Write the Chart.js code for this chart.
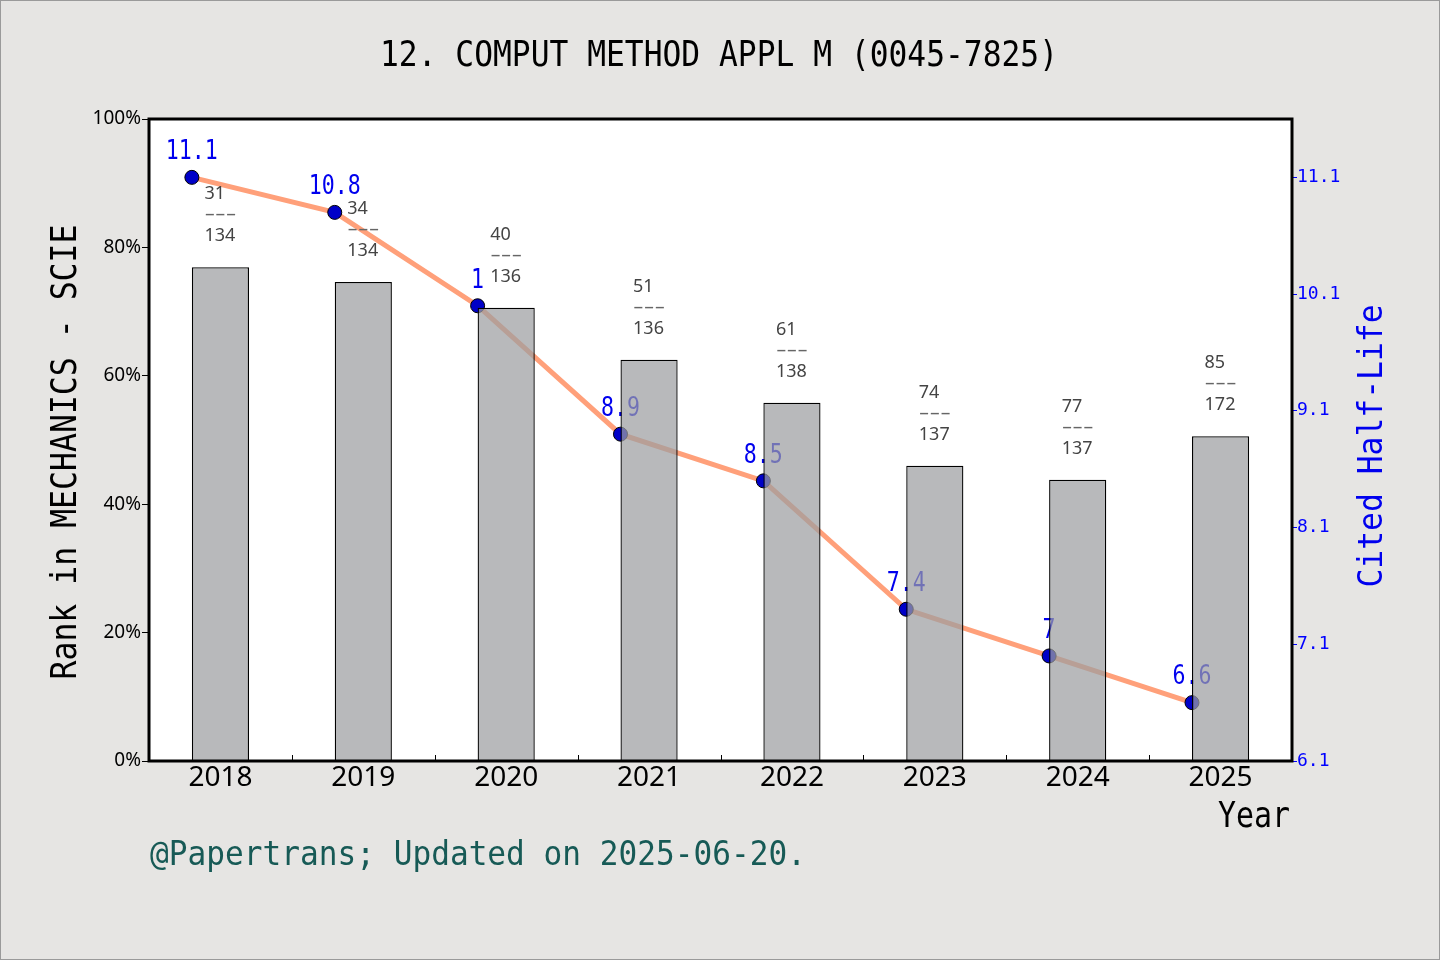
<!DOCTYPE html>
<html>
<head>
<meta charset="utf-8">
<script src="https://cdn.jsdelivr.net/npm/chart.js@4.4.1/dist/chart.umd.min.js"></script>
<style>
  html, body { margin: 0; padding: 0; background: #e6e5e3; }
  canvas { display: block; }
</style>
</head>
<body>
<canvas id="chart" width="1440" height="960"></canvas>
<script>
const years = ['2018', '2019', '2020', '2021', '2022', '2023', '2024', '2025'];
const rankPct = [76.9, 74.6, 70.6, 62.5, 55.8, 46.0, 43.8, 50.6];
const ranks = [31, 34, 40, 51, 61, 74, 77, 85];
const totals = [134, 134, 136, 136, 138, 137, 137, 172];
const halfLife = [11.1, 10.8, 10.0, 8.9, 8.5, 7.4, 7.0, 6.6];
const halfLifeLabels = ['11.1', '10.8', '1', '8.9', '8.5', '7.4', '7', '6.6'];
const rightTicks = [6.1, 7.1, 8.1, 9.1, 10.1, 11.1];

const MONO = '"DejaVu Sans Mono", "Liberation Mono", monospace';
const SANS = '"Noto Sans", "Open Sans", sans-serif';

// draws text squeezed to a given width, like the narrow CJK half-width font
function fitText(ctx, text, x, y, o) {
    ctx.save();
    ctx.font = o.font;
    const w = ctx.measureText(text).width;
    const sx = o.width ? o.width / w : 1;
    ctx.translate(x, y);
    if (o.rotate) ctx.rotate(o.rotate);
    ctx.scale(sx, 1);
    ctx.textAlign = o.align || 'center';
    ctx.textBaseline = 'middle';
    ctx.fillStyle = o.color || '#000';
    ctx.fillText(text, 0, 0);
    ctx.restore();
}

const decor = {
    id: 'decor',
    beforeDraw(chart) {
        const ctx = chart.ctx, a = chart.chartArea;
        ctx.save();
        ctx.fillStyle = '#e6e5e3';
        ctx.fillRect(0, 0, chart.width, chart.height);
        ctx.fillStyle = '#ffffff';
        ctx.fillRect(a.left, a.top, a.right - a.left, a.bottom - a.top);
        ctx.strokeStyle = '#9a9a9a';
        ctx.lineWidth = 1;
        ctx.strokeRect(0.5, 0.5, chart.width - 1, chart.height - 1);
        ctx.restore();
    },
    afterDatasetDraw(chart, args) {
        // line value labels sit under the bars, as in the original
        if (args.index !== 1) return;
        const ctx = chart.ctx;
        args.meta.data.forEach((pt, i) => {
            const t = halfLifeLabels[i];
            fitText(ctx, t, pt.x, pt.y - 25, { font: '26px ' + MONO, width: 13 * t.length, color: '#0000ee' });
        });
    },
    afterDatasetsDraw(chart) {
        const ctx = chart.ctx, a = chart.chartArea;
        const bars = chart.getDatasetMeta(0).data;
        ctx.save();
        bars.forEach((b, i) => {
            const lx = b.x - 16;
            ctx.font = '18px ' + SANS;
            ctx.fillStyle = '#444444';
            ctx.textAlign = 'left';
            ctx.textBaseline = 'middle';
            ctx.fillText(String(ranks[i]), lx, b.y - 73);
            ctx.fillText(String(totals[i]), lx, b.y - 31);
            fitText(ctx, '---', lx, b.y - 52, { font: '18px ' + SANS, width: 32, color: '#666666', align: 'left' });
        });
        // x tick marks between categories, pointing inward
        const xs = chart.scales.x;
        ctx.strokeStyle = '#000';
        ctx.lineWidth = 1;
        ctx.beginPath();
        for (let i = 0; i < years.length - 1; i++) {
            const px = Math.round((xs.getPixelForTick(i) + xs.getPixelForTick(i + 1)) / 2) + 0.5;
            ctx.moveTo(px, a.bottom);
            ctx.lineTo(px, a.bottom - 6);
        }
        ctx.stroke();
        // plot frame
        ctx.lineWidth = 3;
        ctx.strokeRect(a.left, a.top, a.right - a.left, a.bottom - a.top);
        ctx.restore();
    },
    afterDraw(chart) {
        const ctx = chart.ctx;
        fitText(ctx, '12. COMPUT METHOD APPL M (0045-7825)', 719, 57, { font: '35px ' + MONO, width: 678 });
        fitText(ctx, 'Rank in MECHANICS - SCIE', 67, 452, { font: '35px ' + MONO, width: 455, rotate: -Math.PI / 2 });
        fitText(ctx, 'Cited Half-Life', 1373, 446, { font: '34px ' + MONO, width: 283, rotate: -Math.PI / 2, color: '#0000ee' });
        fitText(ctx, 'Year', 1290, 818, { font: '35px ' + MONO, width: 72, align: 'right' });
        fitText(ctx, '@Papertrans; Updated on 2025-06-20.', 150, 856, { font: '33px ' + MONO, width: 656, align: 'left', color: '#175a56' });
    }
};

new Chart(document.getElementById('chart'), {
    data: {
        labels: years,
        datasets: [{
            type: 'bar',
            data: rankPct,
            xAxisID: 'x',
            yAxisID: 'y',
            grouped: false,
            backgroundColor: 'rgba(157, 158, 161, 0.72)',
            borderColor: '#000000',
            borderWidth: 1.3,
            categoryPercentage: 0.8,
            barPercentage: 0.5,
            order: 1
        }, {
            type: 'line',
            data: halfLife.map((v, i) => ({ x: i - 0.2, y: v })),
            xAxisID: 'x2',
            yAxisID: 'y2',
            borderColor: '#ffa07a',
            borderWidth: 5,
            tension: 0,
            pointRadius: 7,
            pointHoverRadius: 7,
            pointBackgroundColor: '#0000c8',
            pointBorderColor: '#000000',
            pointBorderWidth: 1,
            clip: false,
            order: 2
        }]
    },
    options: {
        responsive: false,
        animation: false,
        devicePixelRatio: 1,
        layout: { padding: { top: 119, bottom: 159, left: 0, right: 0 } },
        plugins: { legend: { display: false }, tooltip: { enabled: false } },
        scales: {
            x: {
                type: 'category',
                offset: true,
                grid: { display: false },
                border: { display: false },
                ticks: { color: '#000', font: { family: SANS, size: 28 }, padding: -8, maxRotation: 0 },
                afterFit(s) { s.height = 40; }
            },
            x2: {
                type: 'linear',
                min: -0.5,
                max: 7.5,
                display: false
            },
            y: {
                position: 'left',
                min: 0,
                max: 100,
                ticks: { stepSize: 20, color: '#000', font: { family: SANS, size: 19 }, padding: 1, callback: v => v + '%' },
                grid: { drawOnChartArea: false, tickLength: 7, color: '#000' },
                border: { display: false },
                afterFit(s) { s.width = 149; }
            },
            y2: {
                position: 'right',
                min: 6.1,
                max: 11.6,
                afterBuildTicks(s) { s.ticks = rightTicks.map(v => ({ value: v })); },
                ticks: { color: 'blue', font: { family: MONO, size: 18 }, padding: 0, callback: v => Number(v).toFixed(1) },
                grid: { drawOnChartArea: false, tickLength: 5, color: 'blue' },
                border: { display: false },
                afterFit(s) { s.width = 148; }
            }
        }
    },
    plugins: [decor]
});
</script>
</body>
</html>
